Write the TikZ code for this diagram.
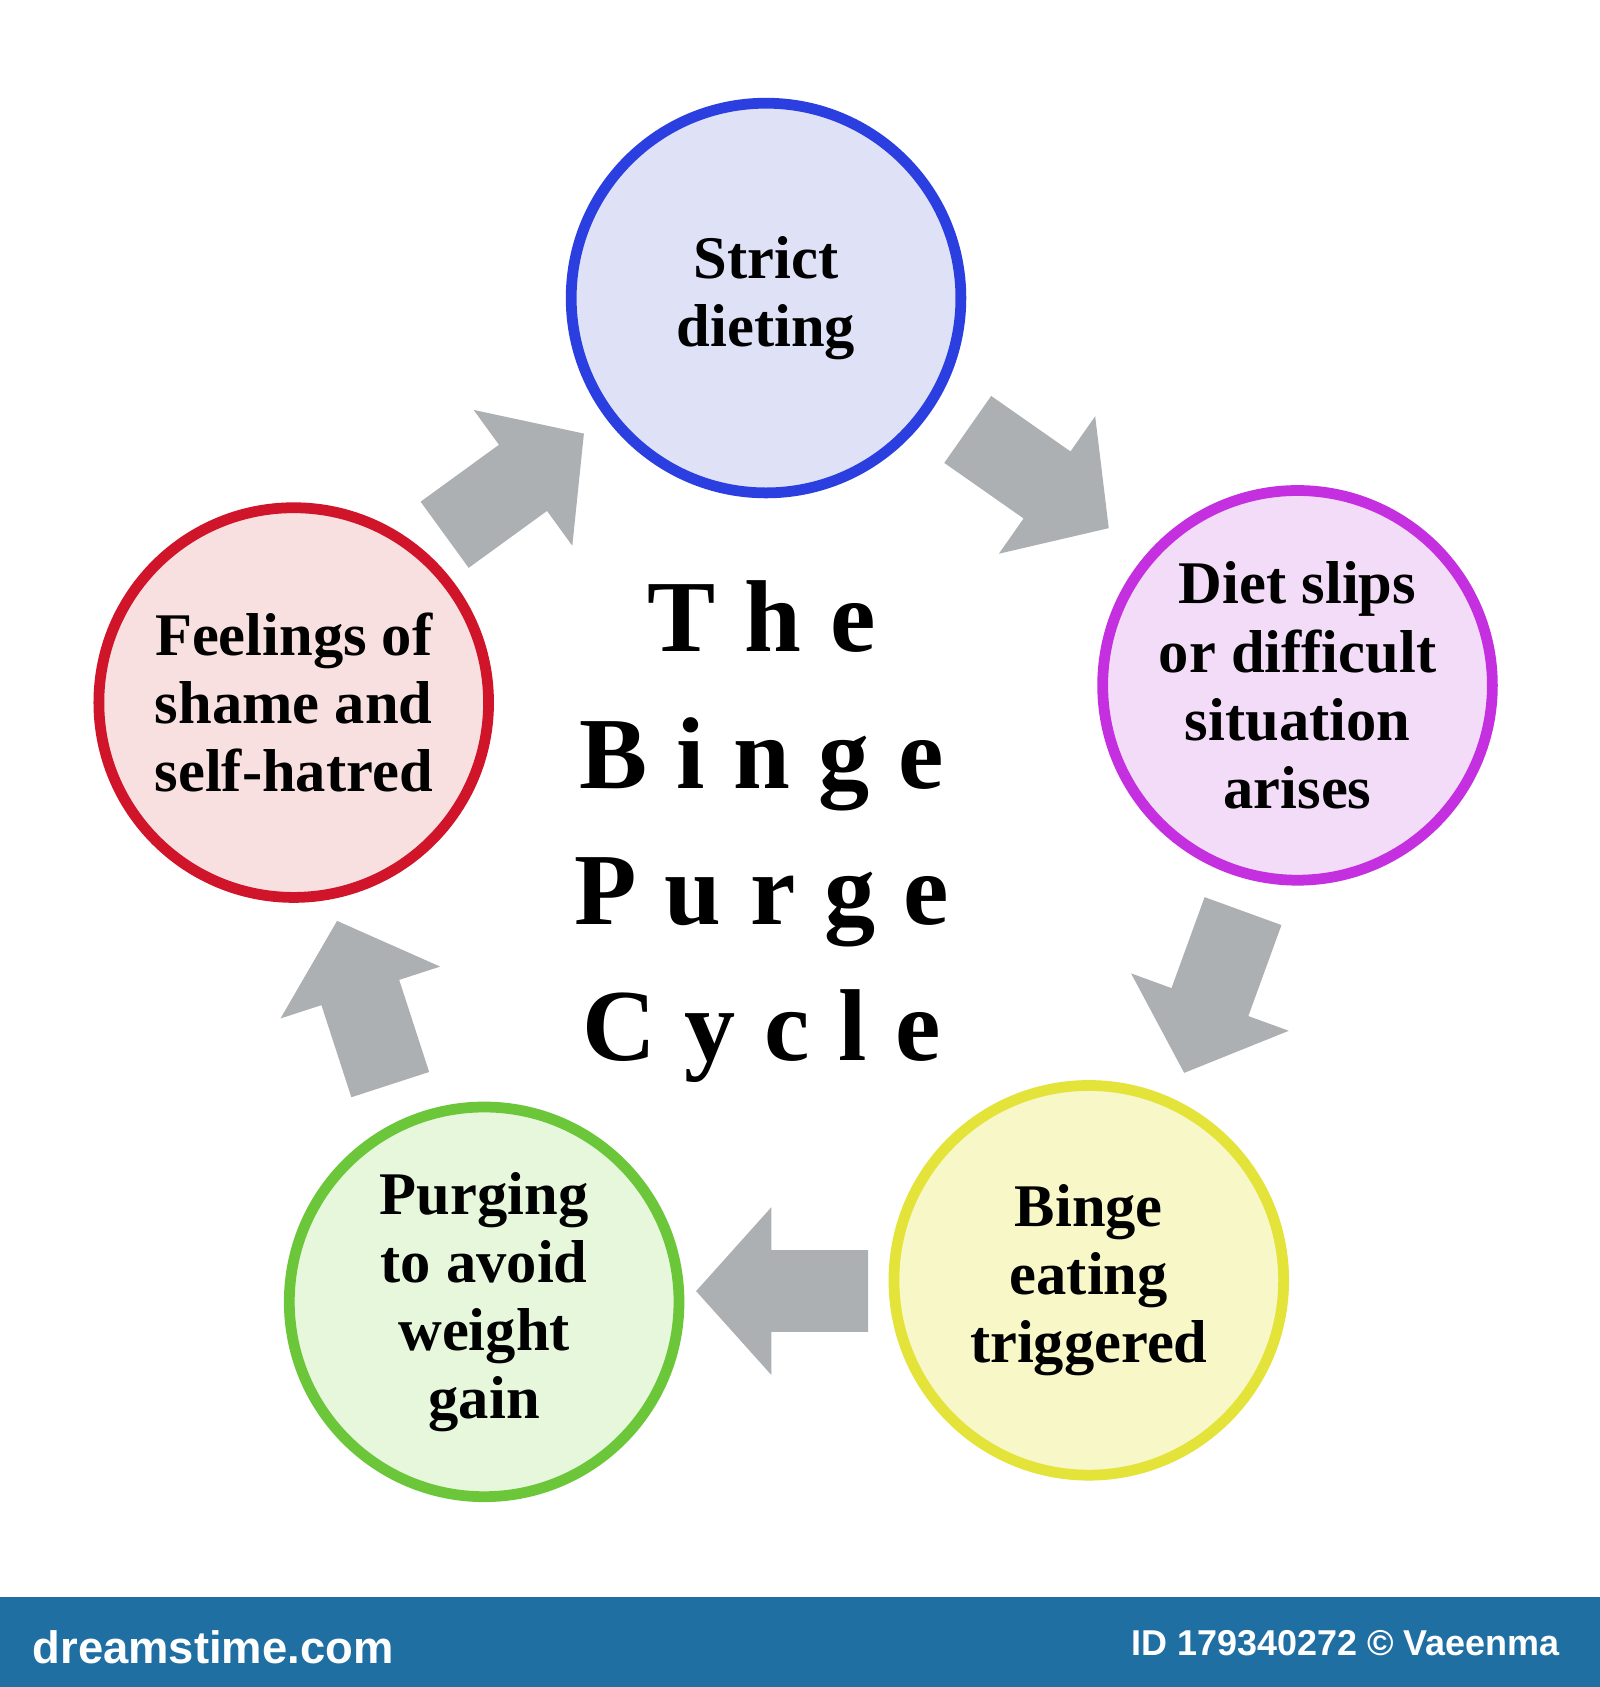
\documentclass[tikz,border=0pt]{standalone}
\usepackage{fontspec}
\setmainfont{Liberation Serif}
\newfontfamily\titlefont[LetterSpace=28]{Liberation Serif}
\newfontfamily\barfont{Liberation Sans}
\definecolor{bdblue}{HTML}{2B3EE0}\definecolor{fblue}{HTML}{DFE2F7}
\definecolor{bdpurple}{HTML}{C42FE0}\definecolor{fpurple}{HTML}{F3DCF7}
\definecolor{bdyellow}{HTML}{E3E33A}\definecolor{fyellow}{HTML}{F7F7C8}
\definecolor{bdgreen}{HTML}{6CC63A}\definecolor{fgreen}{HTML}{E6F7DC}
\definecolor{bdred}{HTML}{D0142A}\definecolor{fred}{HTML}{F8DFE0}
\definecolor{arrgray}{HTML}{ACB0B2}
\definecolor{barblue}{HTML}{1F6FA3}
\tikzset{
  stage/.style={circle,line width=0.1cm,minimum size=3.62cm,inner sep=0pt,align=center,
    font=\fontsize{16}{18}\selectfont\bfseries},
  blockarrow/.pic={\fill[arrgray] (-80,38)--(10,38)--(10,78)--(80,0)--(10,-78)--(10,-38)--(-80,-38)--cycle;}
}
\begin{document}
\begin{tikzpicture}[x=0.01cm,y=-0.01cm]
\useasboundingbox (0,0) rectangle (1487,1568);
\fill[white] (0,0) rectangle (1487,1568);
\fill[barblue] (0,1484) rectangle (1487,1568);
\node[anchor=west,text=white,font=\barfont\fontsize{12}{14}\selectfont\bfseries] (wm) at (18,1531) {dreamstime.com};
\node[anchor=east,text=white,font=\barfont\fontsize{9.5}{12}\selectfont\bfseries] (id) at (1462,1527) {ID 179340272 © Vaeenma};
\node[stage,draw=bdblue,fill=fblue] (s1) at (712,277) {Strict\\dieting};
\node[stage,draw=bdpurple,fill=fpurple] (s2) at (1206,637) {Diet slips\\or difficult\\situation\\arises};
\node[stage,draw=bdyellow,fill=fyellow] (s3) at (1012,1190) {Binge\\eating\\triggered};
\node[stage,draw=bdgreen,fill=fgreen] (s4) at (450,1210) {Purging\\to avoid\\weight\\gain};
\node[stage,draw=bdred,fill=fred] (s5) at (273,653) {Feelings of\\shame and\\self-hatred};
\node[align=center,font=\titlefont\fontsize{27}{36}\selectfont\bfseries] (title) at (708,773) {The\\Binge\\Purge\\Cycle};
\pic[rotate=-35] at (965,445) {blockarrow};
\pic[rotate=-110] at (1128,922) {blockarrow};
\pic[rotate=180] at (727,1200) {blockarrow};
\pic[rotate=108] at (338,932) {blockarrow};
\pic[rotate=36] at (478,450) {blockarrow};
\end{tikzpicture}
\end{document}
